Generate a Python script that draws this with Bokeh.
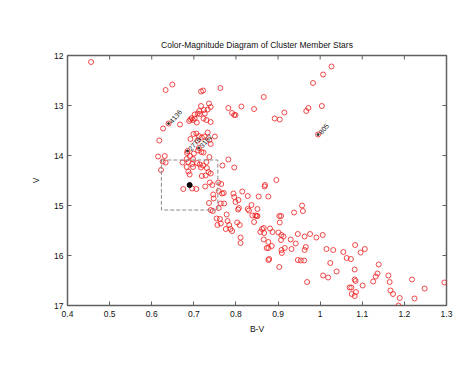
from bokeh.plotting import figure
from bokeh.models import Range1d, FixedTicker
from bokeh.core.properties import value
from bokeh.embed import file_html
from bokeh.resources import INLINE

# ---- data ----
bv = [0.456, 0.633, 0.649, 0.717, 0.722, 0.763, 0.866, 0.983, 1.007, 1.027,
      1.004, 0.972, 0.967, 0.915, 0.892, 0.904, 0.843, 0.813, 0.782, 0.791,
      0.796, 0.799, 0.736, 0.740, 0.733, 0.724, 0.717, 0.713, 0.726, 0.709,
      0.714, 0.702, 0.695, 0.698, 0.702, 0.689, 0.692, 0.707, 0.723, 0.740,
      0.730, 0.667, 0.640, 0.627, 0.618, 0.699, 0.706, 0.712, 0.719, 0.725,
      0.733, 0.750, 0.692, 0.709, 0.737, 0.740, 0.685, 0.712, 0.684, 0.691,
      0.700, 0.710, 0.718, 0.723, 0.615, 0.631, 0.626, 0.633, 0.622, 0.673,
      0.683, 0.687, 0.683, 0.690, 0.687, 0.696, 0.698, 0.708, 0.714, 0.717,
      0.722, 0.730, 0.737, 0.731, 0.735, 0.740, 0.719, 0.728, 0.698, 0.675,
      0.696, 0.706, 0.727, 0.738, 0.744, 0.736, 0.746, 0.747, 0.740, 0.745,
      0.758, 0.765, 0.759, 0.767, 0.771, 0.768, 0.782, 0.796, 0.764, 0.772,
      0.759, 0.754, 0.762, 0.764, 0.756, 0.778, 0.780, 0.784, 0.787, 0.791,
      0.776, 0.794, 0.796, 0.799, 0.806, 0.805, 0.807, 0.803, 0.809, 0.815,
      0.828, 0.828, 0.831, 0.837, 0.839, 0.843, 0.846, 0.849, 0.851, 0.851,
      0.854, 0.811, 0.811, 0.869, 0.868, 0.896, 0.877, 0.858, 0.862, 0.866,
      0.867, 0.881, 0.887, 0.866, 0.877, 0.873, 0.877, 0.885, 0.877, 0.879,
      0.903, 0.907, 0.904, 0.901, 0.908, 0.913, 0.907, 0.916, 0.908, 0.909,
      0.903, 0.930, 0.932, 0.938, 0.942, 0.947, 0.947, 0.954, 0.962, 0.957,
      0.959, 0.963, 0.966, 0.963, 0.969, 0.976, 0.991, 1.006, 1.015, 1.031,
      1.007, 1.019, 1.024, 1.039, 1.055, 1.063, 1.073, 1.083, 1.096, 1.106,
      1.082, 1.082, 1.084, 1.101, 1.070, 1.074, 1.075, 1.082, 1.085, 1.126,
      1.132, 1.136, 1.139, 1.162, 1.165, 1.167, 1.173, 1.189, 1.186, 1.218,
      1.224, 1.248, 1.295, 0.995]
vmag = [12.13, 12.69, 12.58, 12.72, 12.70, 12.65, 12.83, 12.55, 12.38, 12.22,
        13.01, 13.05, 13.11, 13.14, 13.26, 13.28, 13.07, 13.02, 13.05, 13.15,
        13.19, 13.19, 12.96, 13.03, 13.08, 13.09, 13.01, 13.11, 13.16, 13.16,
        13.17, 13.18, 13.25, 13.29, 13.26, 13.31, 13.28, 13.34, 13.26, 13.33,
        13.29, 13.38, 13.36, 13.46, 13.70, 13.57, 13.56, 13.61, 13.64, 13.62,
        13.54, 13.62, 13.67, 13.70, 13.69, 13.77, 13.91, 13.85, 13.95, 14.01,
        13.96, 13.90, 13.93, 13.94, 14.02, 14.01, 14.12, 14.14, 14.29, 14.14,
        14.07, 14.13, 14.23, 14.38, 14.32, 14.17, 14.07, 14.15, 14.18, 14.24,
        14.20, 14.13, 14.03, 14.25, 14.33, 14.36, 14.41, 14.40, 14.23, 14.67,
        14.66, 14.67, 14.62, 14.54, 14.59, 14.95, 14.78, 14.86, 15.09, 15.11,
        14.54, 14.57, 14.71, 14.76, 14.75, 14.20, 14.08, 14.24, 14.96, 14.96,
        15.05, 15.26, 15.27, 15.36, 15.39, 15.18, 15.31, 15.39, 15.47, 15.51,
        15.47, 14.76, 14.83, 14.93, 14.89, 15.08, 15.05, 15.34, 15.39, 14.72,
        14.81, 15.07, 15.10, 14.99, 15.20, 15.33, 15.20, 15.21, 15.21, 15.07,
        14.82, 15.64, 15.75, 14.59, 14.62, 14.49, 14.82, 15.53, 15.47, 15.45,
        15.55, 15.46, 15.53, 15.68, 15.73, 15.85, 15.85, 15.81, 16.09, 16.07,
        15.21, 15.21, 15.34, 15.54, 15.59, 15.62, 15.69, 15.85, 15.89, 15.95,
        16.23, 15.68, 15.87, 15.14, 15.76, 15.57, 16.09, 16.10, 16.10, 15.00,
        15.11, 15.62, 15.83, 15.89, 16.53, 15.57, 15.64, 15.59, 15.87, 15.89,
        16.40, 16.44, 16.15, 16.32, 15.93, 16.05, 16.07, 15.79, 15.94, 15.87,
        16.28, 16.48, 16.51, 16.60, 16.64, 16.64, 16.77, 16.81, 16.73, 16.52,
        16.42, 16.36, 16.18, 16.40, 16.53, 16.70, 16.77, 16.85, 17.00, 16.48,
        16.86, 16.66, 16.54, 13.58]

# labelled stars
lab_ids = ["4136", "2776", "3152", "805"]
lab_bv = [0.640, 0.685, 0.712, 0.995]
lab_v = [13.36, 13.91, 13.85, 13.58]

# highlighted star and its selection box (half-widths)
star_bv = [0.690]
star_v = [14.59]
box_dbv = 0.067
box_dv = 0.50

x_ticks = [0.4, 0.5, 0.6, 0.7, 0.8, 0.9, 1.0, 1.1, 1.2, 1.3]
x_tick_labels = ["0.4", "0.5", "0.6", "0.7", "0.8", "0.9", "1", "1.1", "1.2", "1.3"]
y_ticks = [12, 13, 14, 15, 16, 17]
x_lo, x_hi = 0.4, 1.3
y_faint, y_bright = 17, 12

FONT = "Liberation Sans"
FRAME = "#606060"

p = figure(width=474, height=366, output_backend="svg", toolbar_location=None,
           x_range=Range1d(x_lo, x_hi), y_range=Range1d(y_faint, y_bright),
           title="Color-Magnitude Diagram of Cluster Member Stars",
           min_border_left=67, min_border_right=28, min_border_top=55,
           min_border_bottom=61)
p.background_fill_color = "white"
p.border_fill_color = "white"
p.outline_line_color = FRAME
p.outline_line_width = 1.5
p.xgrid.visible = False
p.ygrid.visible = False

p.title.align = "center"
p.title.text_font = FONT
p.title.text_font_size = "8.5px"
p.title.text_font_style = "normal"
p.title.text_color = "#111111"
p.title.standoff = 12

def style_axis(ax):
    ax.axis_line_color = None
    ax.major_tick_in = 4
    ax.major_tick_out = 0
    ax.major_tick_line_color = FRAME
    ax.major_tick_line_width = 1
    ax.minor_tick_line_color = None
    ax.major_label_text_font = FONT
    ax.major_label_text_font_size = "8.5px"
    ax.major_label_text_color = "#111111"
    ax.axis_label_text_font = FONT
    ax.axis_label_text_font_size = "8.5px"
    ax.axis_label_text_font_style = "normal"
    ax.axis_label_text_color = "#111111"

xa = p.xaxis[0]
xa.ticker = FixedTicker(ticks=x_ticks)
xa.major_label_overrides = dict(zip(x_ticks, x_tick_labels))
xa.axis_label = "B-V"
style_axis(xa)
xa.major_label_standoff = 5
xa.axis_label_standoff = 4

ya = p.yaxis[0]
ya.ticker = FixedTicker(ticks=y_ticks)
ya.axis_label = "V"
style_axis(ya)
ya.major_label_standoff = 4
ya.axis_label_standoff = 10

# mirrored inward ticks on the top and right edges (clipped to the frame)
p.scatter(x_ticks, [y_bright] * len(x_ticks), marker="dash", angle=90,
          angle_units="deg", size=8, line_color=FRAME, line_width=1)
p.scatter([x_hi] * len(y_ticks), y_ticks, marker="dash", size=8,
          line_color=FRAME, line_width=1)

# member stars
p.scatter(bv, vmag, marker="circle", size=5, fill_color=None,
          line_color="#ee1c1c", line_width=0.8)

# selection box around the highlighted star
p.rect(x=star_bv, y=star_v, width=2 * box_dbv, height=2 * box_dv,
       fill_color=None, line_color="#8a8a8a", line_width=1, line_dash="4 2")
p.scatter(star_bv, star_v, marker="circle", size=5, fill_color="black",
          line_color="black")

# labelled stars
p.scatter(lab_bv, lab_v, marker="circle", size=2, fill_color="#333333",
          line_color="#333333")
p.text(lab_bv, lab_v, text=lab_ids, angle=50, angle_units="deg",
       text_font=value(FONT), text_font_size="7px", text_color="#222222",
       text_align="left", text_baseline="middle", x_offset=2, y_offset=-1)

open("out.html", "w").write(file_html(p, INLINE))
